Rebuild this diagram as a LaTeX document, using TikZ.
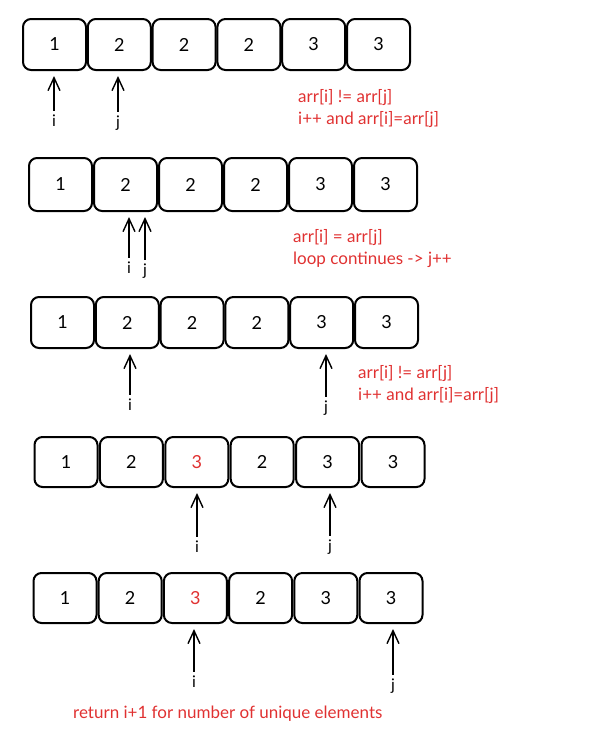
\documentclass[tikz,border=0pt]{standalone}
\usepackage{fontspec}
\setmainfont{Lato}
\usetikzlibrary{arrows.meta}
\definecolor{exred}{HTML}{E03131}
\tikzset{
  cell/.style={draw, line width=2pt, rounded corners=8pt, minimum width=63pt,
    minimum height=51pt, inner sep=0pt, font=\fontsize{18}{20}\selectfont},
  ptr/.style={line width=1.4pt, -{Straight Barb[length=13pt,width=12pt,line width=1.4pt]},
    shorten >=5pt, shorten <=3pt},
  lab/.style={font=\fontsize{16}{18}\selectfont, inner sep=1pt},
  note/.style={text=exred, font=\fontsize{17}{22}\selectfont, align=left,
    anchor=north west, inner sep=0pt}
}
\begin{document}
\begin{tikzpicture}[x=1pt,y=-1pt]
\useasboundingbox (0,0) rectangle (607,747);
% row 1
\foreach \v [count=\k] in {1,2,2,2,3,3}
  \node[cell] (ra\k) at ({54.5+(\k-1)*64.8},44.5) {\v};
\node[lab] (ai) at (54,121) {i};
\node[lab] (aj) at (118,123) {j};
\draw[ptr] (ai) -- (ai |- ra1.south);
\draw[ptr] (aj) -- (aj |- ra2.south);
\node[note] (na) at (298,89) {arr[i] != arr[j]\\ i++ and arr[i]=arr[j]};
% row 2
\foreach \v [count=\k] in {1,2,2,2,3,3}
  \node[cell, minimum height=53pt] (rb\k) at ({60.5+(\k-1)*65},184.5) {\v};
\node[lab] (bi) at (129,268) {i};
\node[lab] (bj) at (145,271) {j};
\draw[ptr] (bi) -- (bi |- rb2.south);
\draw[ptr] (bj) -- (bj |- rb2.south);
\node[note] (nb) at (293,229) {arr[i] = arr[j]\\ loop continues -> j++};
% row 3
\foreach \v [count=\k] in {1,2,2,2,3,3}
  \node[cell] (rc\k) at ({62.5+(\k-1)*64.8},322.5) {\v};
\node[lab] (ci) at (130,405) {i};
\node[lab] (cj) at (326,408) {j};
\draw[ptr] (ci) -- (ci |- rc2.south);
\draw[ptr] (cj) -- (cj |- rc5.south);
\node[note] (nc) at (358,365) {arr[i] != arr[j]\\ i++ and arr[i]=arr[j]};
% row 4
\foreach \v [count=\k] in {1,2,{\textcolor{exred}{3}},2,3,3}
  \node[cell, minimum height=50pt] (rd\k) at ({66+(\k-1)*65.4},462) {\v};
\node[lab] (di) at (197,547) {i};
\node[lab] (dj) at (330,547) {j};
\draw[ptr] (di) -- (di |- rd3.south);
\draw[ptr] (dj) -- (dj |- rd5.south);
% row 5
\foreach \v [count=\k] in {1,2,{\textcolor{exred}{3}},2,3,3}
  \node[cell, minimum height=50pt] (re\k) at ({65+(\k-1)*65.2},598) {\v};
\node[lab] (ei) at (194,682) {i};
\node[lab] (ej) at (393,686) {j};
\draw[ptr] (ei) -- (ei |- re3.south);
\draw[ptr] (ej) -- (ej |- re6.south);
\node[note, anchor=west] (ne) at (73,714) {return i+1 for number of unique elements};
\end{tikzpicture}
\end{document}
